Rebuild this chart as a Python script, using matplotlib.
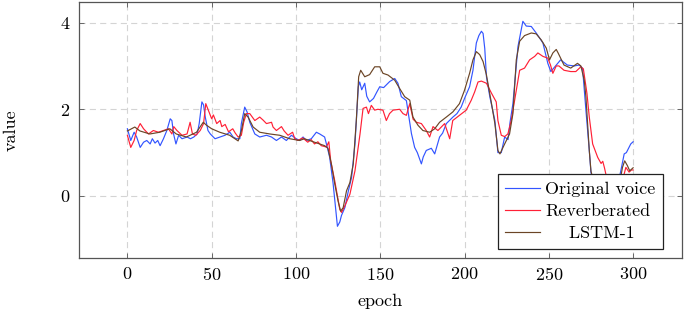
import matplotlib
matplotlib.use('Agg')
import matplotlib.pyplot as plt

plt.rcParams['font.family'] = ['cmr10', 'DejaVu Serif']
plt.rcParams['mathtext.fontset'] = 'cm'
plt.rcParams['axes.formatter.use_mathtext'] = True
plt.rcParams['font.size'] = 13

# Original voice
orig_x = [0, 2, 4, 5.5, 7.6, 9.6, 11.5, 13.5, 14.8, 16.4, 18, 19.4, 21.4, 23.4, 25.4, 26.4, 27.4, 28.8,
          30.4, 32.4, 35.4, 37.4, 39.4, 41.4, 42.6, 44.2, 45.2, 46.2, 47.8, 49.2, 52, 55, 57.9, 60.8,
          62.7, 64.7, 66.7, 67.6, 69.6, 71, 72.6, 75.6, 78.5, 82.5, 85.5, 88.4, 91.4, 94.3, 97.3,
          100.2, 102.2, 104.2, 106.2, 109.1, 112.1, 114.1, 117, 118.6, 120, 122, 124.6, 126, 127,
          129, 131, 133, 135, 137, 137.8, 139, 140.8, 142, 143.7, 146, 148, 149.7, 152, 155.6, 158.6,
          160.5, 162.5, 165.5, 168.5, 170.4, 172, 174.4, 175.5, 177.3, 180.3, 182.3, 185.2, 187,
          189.2, 193.1, 195.5, 198, 200, 203, 205, 207, 208.5, 210, 211, 212, 213, 215, 218, 219.8,
          221.8, 223.8, 225.8, 227, 228.7, 231.7, 234.6, 236.6, 239.6, 242.5, 246.5, 249.4, 251.2,
          254, 257, 261, 265, 268, 270, 272, 274, 275, 278, 282, 286, 290, 292.7, 294.7, 296,
          298.6, 300]
orig_y = [1.55, 1.28, 1.47, 1.36, 1.12, 1.24, 1.28, 1.2, 1.32, 1.22, 1.28, 1.16, 1.32, 1.51, 1.78, 1.74,
          1.43, 1.2, 1.4, 1.32, 1.36, 1.32, 1.36, 1.43, 1.67, 2.17, 2.1, 1.82, 1.51, 1.43, 1.32, 1.36,
          1.4, 1.47, 1.36, 1.32, 1.32, 1.67, 2.05, 1.94, 1.7, 1.43, 1.36, 1.4, 1.36, 1.28, 1.36, 1.28,
          1.4, 1.32, 1.28, 1.36, 1.28, 1.32, 1.47, 1.43, 1.36, 1.12, 0.89, 0.3, -0.7, -0.6, -0.45,
          -0.27, 0.1, 0.43, 1.2, 2.52, 2.63, 2.45, 2.6, 2.3, 2.17, 2.25, 2.4, 2.52, 2.5, 2.64, 2.71,
          2.6, 2.29, 2.2, 1.44, 1.12, 1.0, 0.74, 0.9, 1.05, 1.1, 0.97, 1.36, 1.45, 1.67, 1.82, 1.9,
          2.05, 2.25, 2.52, 2.9, 3.53, 3.7, 3.8, 3.75, 3.4, 2.75, 2.29, 1.74, 1.0, 1.0, 1.36, 1.3,
          1.7, 2.13, 3.45, 4.03, 3.92, 3.91, 3.76, 3.53, 3.06, 2.87, 3.0, 3.14, 3.02, 3.0, 3.02,
          2.95, 1.98, 1.05, 0.54, 0.1, -0.3, -0.2, 0.1, 0.58, 0.97, 1.0, 1.2, 1.25]

# Reverberated
rev_x = [0, 2, 4, 5.5, 7.6, 9.6, 12.5, 15.4, 18.4, 21.4, 24.4, 26.4, 27.5, 29.4, 32.4, 35.4, 37.2, 38.6,
         40.6, 43.2, 45.2, 46.5, 48, 50, 51, 53, 55, 56, 58, 60, 62.5, 64, 65.7, 67.6, 69, 70.6, 72.6,
         75.6, 78.5, 80.5, 82.5, 85.5, 86.4, 88.4, 91.4, 93, 95.3, 98, 99.3, 101.2, 104, 107, 109,
         111, 113, 115, 118, 119.5, 120.6, 123, 126, 127, 129, 132, 135, 138, 139.8, 141.8, 143,
         144.7, 146.7, 148.6, 151.6, 153.6, 155.5, 157.6, 161.5, 163.5, 165.5, 167.5, 169.5, 171.4,
         174.4, 177.3, 179.3, 181.3, 184.2, 188.2, 191.2, 193, 197, 201, 204, 206, 208, 210, 213,
         216, 218.8, 219.8, 221.8, 223.8, 225.7, 227.7, 229.7, 232.7, 235.6, 238.6, 241.6, 243.5,
         246.5, 249.4, 251, 252.4, 254.4, 256, 259, 263, 266, 269, 270.5, 272.6, 274, 276, 279,
         281, 282, 283, 285, 288, 292, 294, 295.7, 297.6, 299, 300]
rev_y = [1.4, 1.12, 1.28, 1.51, 1.67, 1.55, 1.43, 1.51, 1.47, 1.51, 1.55, 1.43, 1.6, 1.51, 1.4, 1.43,
         1.7, 1.43, 1.4, 1.51, 1.67, 2.13, 1.98, 1.78, 1.87, 1.67, 1.74, 1.6, 1.65, 1.48, 1.55, 1.45,
         1.36, 1.4, 1.7, 1.9, 1.9, 1.74, 1.82, 1.75, 1.67, 1.7, 1.59, 1.51, 1.6, 1.5, 1.4, 1.47,
         1.32, 1.28, 1.34, 1.24, 1.3, 1.2, 1.25, 1.16, 1.13, 1.25, 0.81, 0.35, -0.31, -0.38, -0.23,
         0.04, 0.58, 1.43, 2.02, 2.05, 1.9, 2.09, 1.98, 2.0, 1.98, 1.74, 1.9, 1.98, 2.0, 1.9, 1.86,
         2.13, 1.77, 1.7, 1.67, 1.51, 1.36, 1.6, 1.51, 1.67, 1.32, 1.74, 1.86, 1.98, 2.21, 2.4,
         2.63, 2.65, 2.6, 2.37, 2.17, 1.74, 1.4, 1.37, 1.43, 1.74, 2.21, 2.9, 2.95, 3.14, 3.22, 3.3,
         3.22, 3.18, 3.02, 2.83, 3.0, 3.0, 2.9, 2.87, 2.87, 2.98, 2.93, 2.37, 1.82, 1.2, 0.89,
         0.75, 0.8, 0.65, 0.3, -0.2, 0.0, 0.4, 0.66, 0.55, 0.6, 0.6]

# LSTM-1
lstm_x = [0, 4.4, 7.4, 13.3, 19.2, 25.2, 29, 35, 41, 45, 47, 50, 54.8, 60.7, 65.7, 67.6, 69.6, 71.6,
          74.6, 78.5, 84.5, 90.4, 96.3, 102.2, 105, 111, 117, 119, 121, 123, 125, 126.5, 128, 130,
          132, 134, 135.8, 137.2, 138.4, 140.8, 143.7, 146.7, 149.7, 151.6, 154.6, 158.6, 161.5,
          164.5, 167.5, 169.4, 172.4, 175.3, 179.3, 182.3, 185.2, 189.2, 193.1, 197, 200, 203, 205,
          207, 209, 211, 213, 216, 218, 219.8, 221, 223.8, 226.7, 228.7, 230.7, 232.7, 235.6, 239.6,
          242.5, 245.5, 248.5, 250.4, 252.4, 254.4, 255.5, 259, 263, 267, 269, 271, 272, 273, 274,
          275, 279, 284, 289, 292, 293.7, 295, 296.6, 298, 300]
lstm_y = [1.5, 1.59, 1.5, 1.43, 1.47, 1.55, 1.43, 1.36, 1.47, 1.7, 1.63, 1.55, 1.47, 1.4, 1.27, 1.5,
          1.9, 1.82, 1.59, 1.47, 1.43, 1.4, 1.32, 1.28, 1.32, 1.24, 1.16, 1.1, 0.74, 0.28, -0.12,
          -0.35, -0.27, 0.12, 0.31, 0.74, 1.74, 2.75, 2.9, 2.75, 2.8, 2.98, 2.98, 2.83, 2.79, 2.67,
          2.48, 2.29, 2.21, 1.82, 1.63, 1.51, 1.47, 1.55, 1.7, 1.82, 1.94, 2.13, 2.44, 2.83, 3.14,
          3.33, 3.26, 3.1, 2.79, 2.13, 1.67, 1.05, 0.97, 1.2, 1.43, 1.9, 3.14, 3.57, 3.7, 3.76, 3.74,
          3.6, 3.41, 3.14, 3.3, 3.38, 3.3, 3.02, 2.95, 3.06, 3.0, 2.67, 2.29, 1.67, 1.05, 0.57, 0.0,
          -0.3, -0.1, 0.3, 0.66, 0.81, 0.7, 0.58, 0.65]

labels = ['Original voice', 'Reverberated', '    LSTM-1']
x_ticks = [0, 50, 100, 150, 200, 250, 300]
y_ticks = [0, 2, 4]

fig = plt.figure(figsize=(6.85, 3.11), dpi=100)
ax = fig.add_axes([78.5 / 685, 1 - 257.5 / 311, (682 - 78.5) / 685, (257.5 - 2) / 311])

ax.plot(orig_x, orig_y, color='#3355ff', lw=0.85, label=labels[0])
ax.plot(rev_x, rev_y, color='#ff2036', lw=0.85, label=labels[1])
ax.plot(lstm_x, lstm_y, color='#6b4526', lw=0.85, label=labels[2])

ax.set_xlim(-29, 329)
ax.set_ylim(-1.42, 4.475)
ax.set_xticks(x_ticks)
ax.set_yticks(y_ticks)
ax.grid(True, color='#d4d4d4', lw=0.8, linestyle=(0, (5.5, 3.8)))
ax.set_axisbelow(True)
ax.tick_params(direction='in', top=True, right=True, length=3.5, width=0.7, color='#666666', pad=6)
for s in ax.spines.values():
    s.set_color('#555555')
    s.set_linewidth(0.9)

ax.set_xlabel('epoch', va='center')
ax.set_ylabel('value', va='center')
ax.xaxis.set_label_coords(0.5, -0.171)
ax.yaxis.set_label_coords(-0.112, 0.5)

leg = ax.legend(loc='lower right', bbox_to_anchor=(0.9685, 0.033), borderaxespad=0,
                fancybox=False, framealpha=1, edgecolor='#222222', handlelength=1.9,
                handletextpad=0.3, labelspacing=0.36, borderpad=0.42)
leg.get_frame().set_linewidth(0.9)
leg.set_zorder(10)

fig.savefig('out.png', dpi=100)
